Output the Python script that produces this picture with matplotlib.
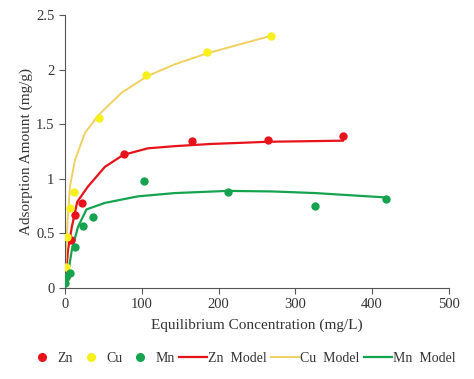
import matplotlib
matplotlib.use("Agg")
import matplotlib.pyplot as plt
from matplotlib.lines import Line2D

plt.rcParams['font.family'] = ['Liberation Serif', 'DejaVu Serif']

# Observed data
zn_x = [2, 8, 13, 22, 77, 165, 264, 362]
zn_y = [0.10, 0.44, 0.67, 0.78, 1.23, 1.35, 1.36, 1.39]
cu_x = [1.3, 2.6, 6.5, 12, 44, 105, 185, 268]
cu_y = [0.19, 0.47, 0.73, 0.88, 1.56, 1.95, 2.16, 2.31]
mn_x = [0, 1.3, 6.5, 13, 24, 36, 103, 212, 326, 418]
mn_y = [0.05, 0.10, 0.14, 0.38, 0.57, 0.65, 0.98, 0.88, 0.75, 0.82]

# Model curves
znm_x = [0, 4, 9, 16, 30, 52, 76, 108, 143, 190, 228, 264, 362]
znm_y = [0.0, 0.35, 0.56, 0.79, 0.93, 1.11, 1.22, 1.28, 1.30, 1.32, 1.33, 1.34, 1.35]
cum_x = [0, 1.3, 3.5, 6.5, 13, 26, 43, 74, 107, 143, 185, 268]
cum_y = [0.05, 0.30, 0.62, 0.93, 1.17, 1.42, 1.58, 1.79, 1.94, 2.05, 2.15, 2.31]
mnm_x = [0, 2.6, 9, 17, 28, 52, 95, 143, 212, 270, 326, 418]
mnm_y = [0.0, 0.07, 0.35, 0.56, 0.72, 0.78, 0.84, 0.87, 0.89, 0.885, 0.87, 0.83]

RED = '#e8121b'
YEL = '#f7f01a'
YELM = '#f0d060'
GRN = '#16a34f'

fig = plt.figure(figsize=(4.74, 3.79), dpi=100)
ax = fig.add_axes([0.137, 0.24, 0.81, 0.72])

ax.plot(znm_x, znm_y, color=RED, lw=1.6, zorder=2)
ax.plot(cum_x, cum_y, color=YELM, lw=1.4, zorder=2)
ax.plot(mnm_x, mnm_y, color=GRN, lw=1.6, zorder=2)
ax.scatter(zn_x, zn_y, s=36, color=RED, zorder=3, linewidths=0)
ax.scatter(cu_x, cu_y, s=36, color=YEL, zorder=3, linewidths=0)
ax.scatter(mn_x, mn_y, s=36, color=GRN, zorder=3, linewidths=0)

ax.set_xlim(0, 500)
ax.set_ylim(0, 2.5)
ax.set_xticks([0, 100, 200, 300, 400, 500])
ax.set_yticks([0, 0.5, 1, 1.5, 2, 2.5])
ax.set_yticklabels(['0', '0.5', '1', '1.5', '2', '2.5'])
for s in ['top', 'right']:
    ax.spines[s].set_visible(False)
for s in ['left', 'bottom']:
    ax.spines[s].set_color('#555555')
ax.tick_params(colors='#333333', labelsize=10.5, length=4, color='#555555')
ax.set_xlabel('Equilibrium Concentration (mg/L)', fontsize=11, color='#333333', labelpad=5)
ax.set_ylabel('Adsorption Amount (mg/g)', fontsize=11, color='#333333', labelpad=2)

handles = [
    Line2D([], [], marker='o', ls='none', color=RED, markersize=5.5),
    Line2D([], [], marker='o', ls='none', color=YEL, markersize=5.5),
    Line2D([], [], marker='o', ls='none', color=GRN, markersize=5.5),
    Line2D([], [], color=RED, lw=1.6),
    Line2D([], [], color=YELM, lw=1.4),
    Line2D([], [], color=GRN, lw=1.6),
]
labels = ['Zn', 'Cu', 'Mn', 'Zn  Model', 'Cu  Model', 'Mn  Model']
fig.legend(handles, labels, loc='center', bbox_to_anchor=(0.51, 0.055), ncol=6,
           frameon=False, fontsize=10, handlelength=2.0, columnspacing=0.3,
           handletextpad=0.1, labelcolor='#333333')

fig.savefig('out.png', dpi=100)
